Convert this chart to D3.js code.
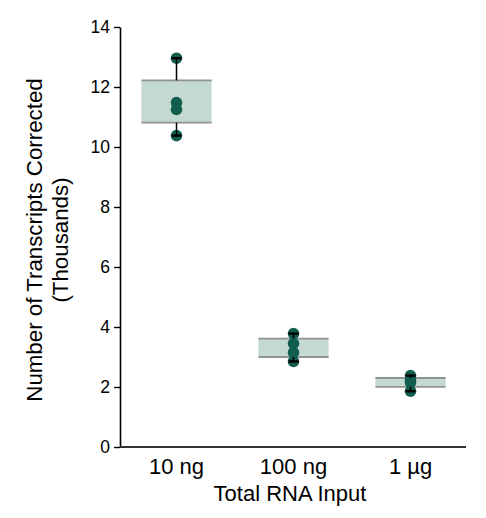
<!DOCTYPE html>
<html>
  <head>
    <title>Transcripts corrected</title>
    <script src="https://cdn.jsdelivr.net/npm/d3@7"></script>
    <style>
      body { margin: 0; background: #fff; }
      text { font-family: "Liberation Sans", Arial, sans-serif; }
    </style>
  </head>
  <body>
    <svg width="486" height="518" id="mainsvg"></svg>
    <script>
      // data (thousands of transcripts)
      const categories = ['10 ng', '100 ng', '1 µg'];
      const values10ng = [12.96, 11.48, 11.25, 10.38];
      const values100ng = [3.78, 3.45, 3.15, 2.85];
      const values1ug = [2.38, 2.22, 2.15, 1.86];
      const yTicks = [0, 2, 4, 6, 8, 10, 12, 14];

      const svg = d3.select('#mainsvg');
      const series = [values10ng, values100ng, values1ug];

      const xScale = d3.scaleBand()
        .domain(categories)
        .range([118, 469])
        .paddingInner(0.4)
        .paddingOuter(0.2);

      const yScale = d3.scaleLinear()
        .domain([0, 14])
        .range([447, 27]);

      // Tukey hinges: medians of lower and upper halves
      const hinges = function(vals){
        const s = vals.slice().sort(d3.ascending);
        const h = Math.floor(s.length / 2);
        return [d3.median(s.slice(0, s.length - h)), d3.median(s.slice(h))];
      };

      const stats = categories.map((c, i) => {
        const [q1, q3] = hinges(series[i]);
        return {cat: c, vals: series[i], q1, q3, min: d3.min(series[i]), max: d3.max(series[i])};
      });

      // axes
      const yAxis = d3.axisLeft(yScale).tickValues(yTicks).tickSize(6).tickSizeOuter(0).tickPadding(4);
      const yg = svg.append('g').attr('transform', 'translate(120,0)').call(yAxis);
      yg.select('.domain').attr('stroke', '#000').attr('stroke-width', 1.6);
      yg.selectAll('.tick line').attr('stroke', '#000').attr('stroke-width', 1.4);
      yg.selectAll('.tick text').attr('font-size', 17.5).attr('fill', '#000');

      const xAxis = d3.axisBottom(xScale).tickSize(0).tickSizeOuter(0).tickPadding(11);
      const xg = svg.append('g').attr('transform', 'translate(0,447)').call(xAxis);
      xg.select('.domain').attr('d', 'M120,0H466').attr('stroke', '#333').attr('stroke-width', 2);
      xg.selectAll('.tick text').attr('font-size', 22).attr('fill', '#000');

      const g = svg.append('g');
      const bw = xScale.bandwidth();

      const groups = g.selectAll('.box').data(stats).join('g').attr('class', 'box');

      // box body
      groups.append('rect')
        .attr('x', d => xScale(d.cat))
        .attr('y', d => yScale(d.q3))
        .attr('width', bw)
        .attr('height', d => yScale(d.q1) - yScale(d.q3))
        .attr('fill', '#c5d9d3');
      groups.selectAll('.edge').data(d => [d.q1, d.q3].map(v => ({cat: d.cat, v})))
        .join('line').attr('class', 'edge')
        .attr('x1', d => xScale(d.cat)).attr('x2', d => xScale(d.cat) + bw)
        .attr('y1', d => yScale(d.v)).attr('y2', d => yScale(d.v))
        .attr('stroke', '#8f9493').attr('stroke-width', 1.8);

      // points
      groups.selectAll('circle').data(d => d.vals.map(v => ({cat: d.cat, v})))
        .join('circle')
        .attr('cx', d => xScale(d.cat) + bw / 2)
        .attr('cy', d => yScale(d.v))
        .attr('r', 5.8)
        .attr('fill', '#125e4e');

      // whiskers with caps
      groups.selectAll('.whisker').data(d => [[d.q3, d.max], [d.q1, d.min]].map(p => ({cat: d.cat, p})))
        .join('line').attr('class', 'whisker')
        .attr('x1', d => xScale(d.cat) + bw / 2).attr('x2', d => xScale(d.cat) + bw / 2)
        .attr('y1', d => yScale(d.p[0])).attr('y2', d => yScale(d.p[1]))
        .attr('stroke', '#000').attr('stroke-width', 1.5);
      groups.selectAll('.cap').data(d => [d.min, d.max].map(v => ({cat: d.cat, v})))
        .join('line').attr('class', 'cap')
        .attr('x1', d => xScale(d.cat) + bw / 2 - 5).attr('x2', d => xScale(d.cat) + bw / 2 + 5)
        .attr('y1', d => yScale(d.v)).attr('y2', d => yScale(d.v))
        .attr('stroke', '#000').attr('stroke-width', 2.5);

      // titles
      svg.append('text')
        .attr('x', 290).attr('y', 501)
        .attr('text-anchor', 'middle').attr('font-size', 22)
        .text('Total RNA Input');

      const yTitle = svg.append('text')
        .attr('transform', 'translate(42,240) rotate(-90)')
        .attr('text-anchor', 'middle').attr('font-size', 22.3);
      yTitle.append('tspan').attr('x', 0).attr('y', 0).text('Number of Transcripts Corrected');
      yTitle.append('tspan').attr('x', 0).attr('y', 25.5).text('(Thousands)');
    </script>
  </body>
</html>
